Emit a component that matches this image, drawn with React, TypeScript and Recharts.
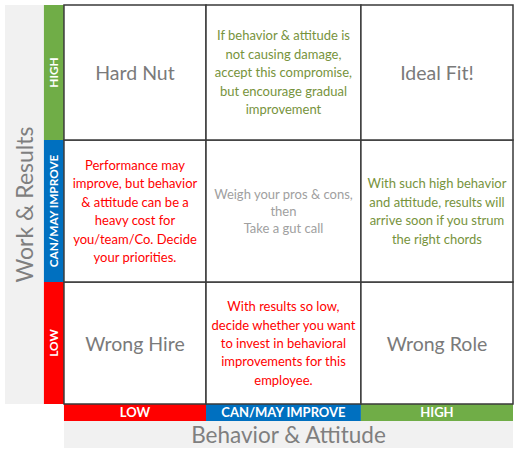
import React from "react";
import { ScatterChart, XAxis, YAxis, ReferenceArea } from "recharts";

// ---- data ----
const behaviorLevels = ["LOW", "CAN/MAY IMPROVE", "HIGH"];
const resultsLevels = ["LOW", "CAN/MAY IMPROVE", "HIGH"];
// band edges on a 0..3 scale (columns / rows are slightly uneven in the original)
const behaviorEdges = [0, 0.949, 1.984, 3];
const resultsEdges = [0, 0.917, 1.985, 3];
const levelColors = ["#ff0000", "#0070c0", "#70ad47"];

const xAxisTitle = "Behavior & Attitude";
const yAxisTitle = "Work & Results";

// cells[resultsIndex][behaviorIndex]
type Cell = { kind: "title" | "red" | "green" | "gray"; lines: string[] };
const cellsLow: Cell[] = [
  { kind: "title", lines: ["Wrong Hire"] },
  {
    kind: "red",
    lines: [
      "With results so low,",
      "decide whether you want",
      "to invest in behavioral",
      "improvements for this",
      "employee.",
    ],
  },
  { kind: "title", lines: ["Wrong Role"] },
];
const cellsMid: Cell[] = [
  {
    kind: "red",
    lines: [
      "Performance may",
      "improve, but behavior",
      "& attitude can be a",
      "heavy cost for",
      "you/team/Co. Decide",
      "your priorities.",
    ],
  },
  { kind: "gray", lines: ["Weigh your pros & cons,", "then", "Take a gut call"] },
  {
    kind: "green",
    lines: [
      "With such high behavior",
      "and attitude, results will",
      "arrive soon if you strum",
      "the right chords",
    ],
  },
];
const cellsHigh: Cell[] = [
  { kind: "title", lines: ["Hard Nut"] },
  {
    kind: "green",
    lines: [
      "If behavior & attitude is",
      "not causing damage,",
      "accept this compromise,",
      "but encourage gradual",
      "improvement",
    ],
  },
  { kind: "title", lines: ["Ideal Fit!"] },
];
const cellRows = [cellsLow, cellsMid, cellsHigh];

// ---- layout / style ----
const FONT = "Lato, 'Open Sans', sans-serif";
const X_MIN = -0.394;
const Y_MIN = -0.331;
const LABEL_BAND_X = -0.134;
const LABEL_BAND_Y = -0.128;

const kindStyle: Record<string, { fill: string; size: number; lh: number }> = {
  title: { fill: "#7a7a7a", size: 19.5, lh: 20 },
  red: { fill: "#ff0000", size: 13, lh: 18.4 },
  green: { fill: "#77933c", size: 13, lh: 18.5 },
  gray: { fill: "#a0a0a0", size: 13, lh: 17 },
};

function CellText(props: any) {
  const { viewBox, cell } = props;
  if (!viewBox) return null;
  const st = kindStyle[cell.kind];
  const cx = viewBox.x + viewBox.width / 2;
  const cy = viewBox.y + viewBox.height / 2;
  const n = cell.lines.length;
  return (
    <text
      x={cx}
      y={cy}
      textAnchor="middle"
      fontFamily={FONT}
      fontSize={st.size}
      fill={st.fill}
    >
      {cell.lines.map((l: string, i: number) => (
        <tspan
          key={i}
          x={cx}
          y={cy + (i - (n - 1) / 2) * st.lh}
          dominantBaseline="central"
        >
          {l}
        </tspan>
      ))}
    </text>
  );
}

function BandText(props: any) {
  const { viewBox, text, rotate, size, fill, bold } = props;
  if (!viewBox) return null;
  const cx = viewBox.x + viewBox.width / 2;
  const cy = viewBox.y + viewBox.height / 2;
  return (
    <text
      x={cx}
      y={cy}
      textAnchor="middle"
      dominantBaseline="central"
      fontFamily={FONT}
      fontSize={size}
      fontWeight={bold ? 700 : 400}
      fill={fill}
      transform={rotate ? `rotate(-90 ${cx} ${cy})` : undefined}
    >
      {text}
    </text>
  );
}

export default function App() {
  return (
    <div style={{ position: "absolute", left: 0, top: 0, background: "#fff" }}>
      <ScatterChart
        width={517}
        height={454}
        margin={{ top: 5, right: 4, bottom: 6, left: 5 }}
      >
        <XAxis
          type="number"
          dataKey="x"
          domain={[X_MIN, 3]}
          allowDataOverflow
          hide
        />
        <YAxis
          type="number"
          dataKey="y"
          domain={[Y_MIN, 3]}
          allowDataOverflow
          hide
        />
        {/* gray title bands */}
        <ReferenceArea
          x1={X_MIN}
          x2={LABEL_BAND_X}
          y1={0}
          y2={3}
          fill="#f1f1f1"
          fillOpacity={1}
          stroke="none"
          label={
            <BandText text={yAxisTitle} rotate size={23} fill="#7f7f7f" />
          }
        />
        <ReferenceArea
          x1={0}
          x2={3}
          y1={Y_MIN}
          y2={LABEL_BAND_Y}
          fill="#f1f1f1"
          fillOpacity={1}
          stroke="none"
          label={<BandText text={xAxisTitle} size={22.5} fill="#7f7f7f" />}
        />
        {/* coloured level bands */}
        {resultsLevels.map((lv, i) => (
          <ReferenceArea
            key={"r" + i}
            x1={LABEL_BAND_X}
            x2={0}
            y1={resultsEdges[i]}
            y2={resultsEdges[i + 1]}
            fill={levelColors[i]}
            fillOpacity={1}
            stroke="none"
            label={<BandText text={lv} rotate size={11.8} fill="#ffffff" bold />}
          />
        ))}
        {behaviorLevels.map((lv, i) => (
          <ReferenceArea
            key={"b" + i}
            x1={behaviorEdges[i]}
            x2={behaviorEdges[i + 1]}
            y1={LABEL_BAND_Y}
            y2={0}
            fill={levelColors[i]}
            fillOpacity={1}
            stroke="none"
            label={<BandText text={lv} size={13} fill="#ffffff" bold />}
          />
        ))}
        {/* matrix cells */}
        {cellRows.map((row, r) =>
          row.map((cell, c) => (
            <ReferenceArea
              key={`c${r}-${c}`}
              x1={behaviorEdges[c]}
              x2={behaviorEdges[c + 1]}
              y1={resultsEdges[r]}
              y2={resultsEdges[r + 1]}
              fill="#ffffff"
              fillOpacity={1}
              stroke="#3a3a3a"
              strokeWidth={1.5}
              label={<CellText cell={cell} />}
            />
          ))
        )}
      </ScatterChart>
    </div>
  );
}
